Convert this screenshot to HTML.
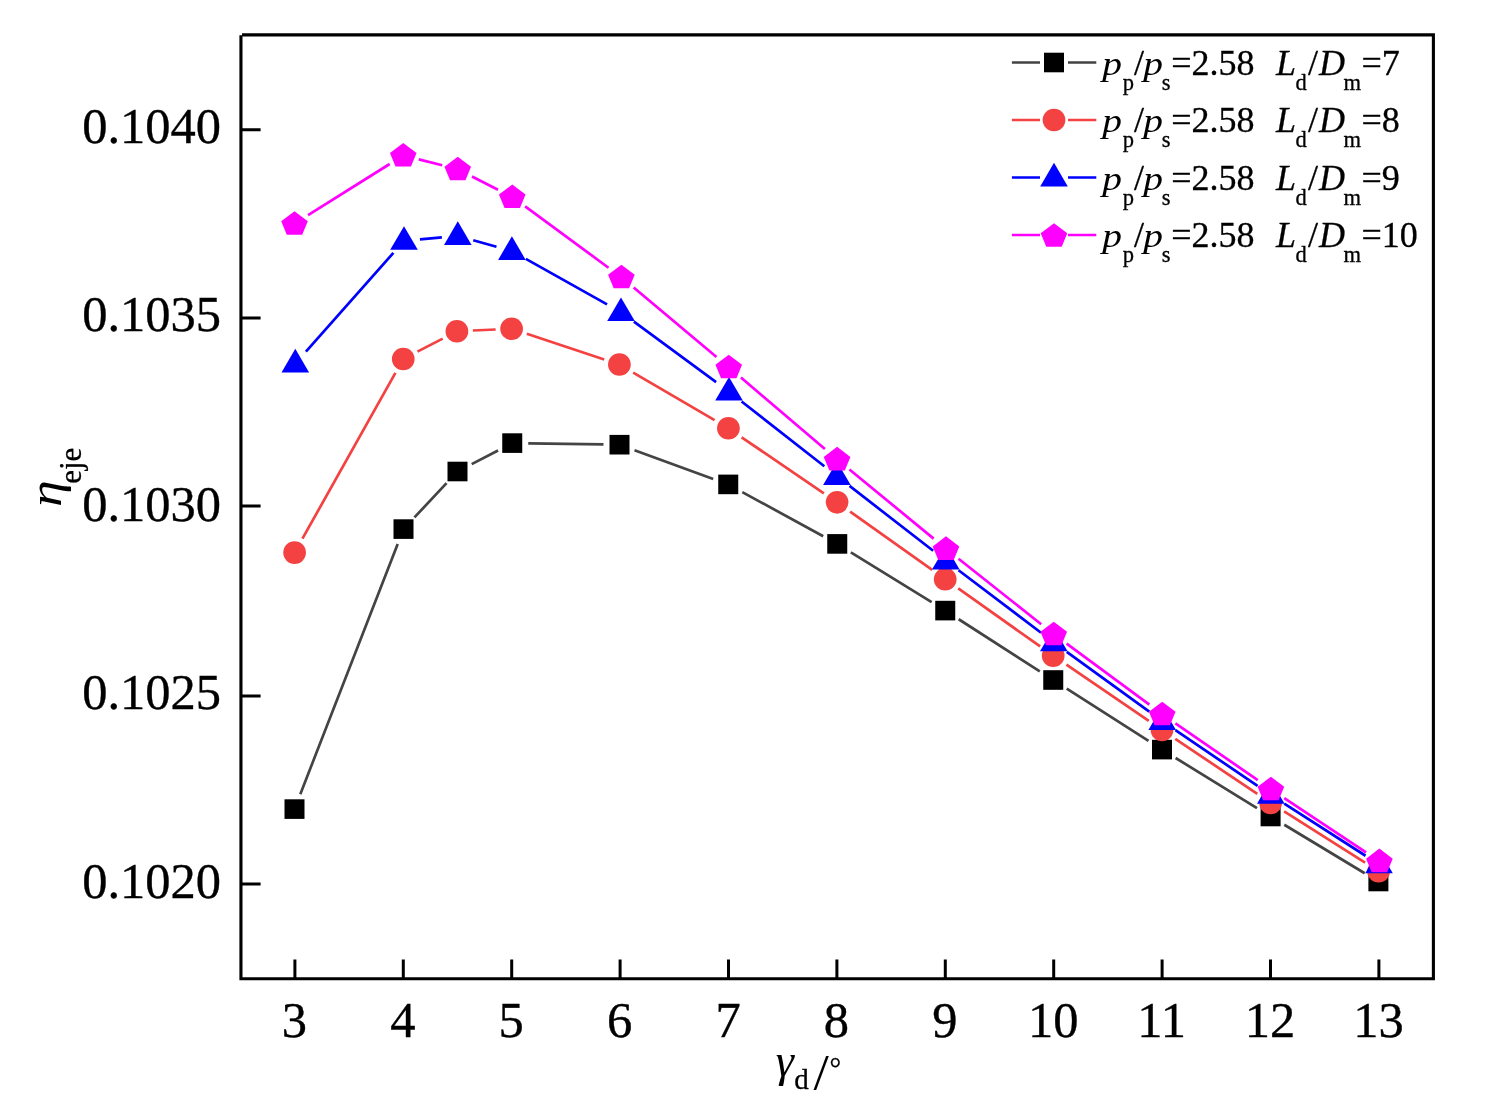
<!DOCTYPE html>
<html lang="en"><head><meta charset="utf-8"><title>Ejector efficiency vs diffuser angle</title>
<style>html,body{margin:0;padding:0;background:#fff}svg{display:block}</style></head>
<body>
<svg width="1488" height="1119" viewBox="0 0 1488 1119">
<rect width="1488" height="1119" fill="#fff"/>
<path d="M300.30 794.19L397.70 544.01M414.44 517.43L446.56 483.17M471.70 464.13L498.05 450.47M528.25 443.34L603.50 444.46M634.53 450.19L713.22 478.91M742.29 492.07L823.21 536.23M850.86 552.31L931.64 602.19M958.71 619.25L1039.79 671.35M1066.73 688.62L1148.52 740.98M1175.62 757.99L1256.98 808.11M1284.30 824.76L1364.70 873.24" stroke="#444" stroke-width="2.7" fill="none"/>
<g><rect x="284.50" y="799.30" width="20" height="19.6" fill="#000" stroke="none"/><rect x="393.50" y="519.30" width="20" height="19.6" fill="#000" stroke="none"/><rect x="447.50" y="461.70" width="20" height="19.6" fill="#000" stroke="none"/><rect x="502.25" y="433.30" width="20" height="19.6" fill="#000" stroke="none"/><rect x="609.50" y="434.90" width="20" height="19.6" fill="#000" stroke="none"/><rect x="718.25" y="474.60" width="20" height="19.6" fill="#000" stroke="none"/><rect x="827.25" y="534.10" width="20" height="19.6" fill="#000" stroke="none"/><rect x="935.25" y="600.80" width="20" height="19.6" fill="#000" stroke="none"/><rect x="1043.25" y="670.20" width="20" height="19.6" fill="#000" stroke="none"/><rect x="1152.00" y="739.80" width="20" height="19.6" fill="#000" stroke="none"/><rect x="1260.60" y="806.70" width="20" height="19.6" fill="#000" stroke="none"/><rect x="1368.40" y="871.70" width="20" height="19.6" fill="#000" stroke="none"/></g>
<path d="M302.43 538.65L395.42 372.95M417.46 351.65L442.69 338.60M472.88 330.52L495.62 329.48M526.79 333.79L604.21 359.46M633.21 372.58L714.59 420.17M741.62 437.26L823.88 493.29M850.14 511.57L932.16 569.93M958.26 588.45L1040.14 646.45M1066.42 664.71L1148.78 720.89M1175.28 738.83L1257.32 793.97M1284.12 811.45L1365.08 862.65" stroke="#f44141" stroke-width="2.7" fill="none"/>
<g><circle cx="294.60" cy="552.60" r="11.35" fill="#f44141" stroke="none"/><circle cx="403.25" cy="359.00" r="11.35" fill="#f44141" stroke="none"/><circle cx="456.90" cy="331.25" r="11.35" fill="#f44141" stroke="none"/><circle cx="511.60" cy="328.75" r="11.35" fill="#f44141" stroke="none"/><circle cx="619.40" cy="364.50" r="11.35" fill="#f44141" stroke="none"/><circle cx="728.40" cy="428.25" r="11.35" fill="#f44141" stroke="none"/><circle cx="837.10" cy="502.30" r="11.35" fill="#f44141" stroke="none"/><circle cx="945.20" cy="579.20" r="11.35" fill="#f44141" stroke="none"/><circle cx="1053.20" cy="655.70" r="11.35" fill="#f44141" stroke="none"/><circle cx="1162.00" cy="729.90" r="11.35" fill="#f44141" stroke="none"/><circle cx="1270.60" cy="802.90" r="11.35" fill="#f44141" stroke="none"/><circle cx="1378.60" cy="871.20" r="11.35" fill="#f44141" stroke="none"/></g>
<path d="M305.91 351.53L393.39 252.87M419.93 239.45L441.87 237.45M473.22 240.27L496.48 246.73M525.85 258.83L607.05 304.37M633.89 321.68L716.11 382.12M741.60 401.47L824.30 466.23M849.54 485.91L933.16 550.79M958.55 570.26L1041.05 632.74M1066.75 651.80L1149.25 711.70M1175.43 730.09L1257.57 785.91M1284.26 803.55L1365.54 855.75" stroke="#0000ff" stroke-width="2.7" fill="none"/>
<g><polygon points="295.30,348.80 309.10,372.40 281.50,372.40" fill="#0000ff" stroke="none"/><polygon points="404.00,226.20 417.80,249.80 390.20,249.80" fill="#0000ff" stroke="none"/><polygon points="457.80,221.30 471.60,244.90 444.00,244.90" fill="#0000ff" stroke="none"/><polygon points="511.90,236.30 525.70,259.90 498.10,259.90" fill="#0000ff" stroke="none"/><polygon points="621.00,297.50 634.80,321.10 607.20,321.10" fill="#0000ff" stroke="none"/><polygon points="729.00,376.90 742.80,400.50 715.20,400.50" fill="#0000ff" stroke="none"/><polygon points="836.90,461.40 850.70,485.00 823.10,485.00" fill="#0000ff" stroke="none"/><polygon points="945.80,545.90 959.60,569.50 932.00,569.50" fill="#0000ff" stroke="none"/><polygon points="1053.80,627.70 1067.60,651.30 1040.00,651.30" fill="#0000ff" stroke="none"/><polygon points="1162.20,706.40 1176.00,730.00 1148.40,730.00" fill="#0000ff" stroke="none"/><polygon points="1270.80,780.20 1284.60,803.80 1257.00,803.80" fill="#0000ff" stroke="none"/><polygon points="1379.00,849.70 1392.80,873.30 1365.20,873.30" fill="#0000ff" stroke="none"/></g>
<path d="M308.06 215.20L389.69 164.00M418.77 159.40L442.23 165.30M472.01 176.46L497.99 189.69M525.14 206.43L608.51 267.72M633.66 287.48L716.49 356.92M740.94 377.56L824.91 448.94M849.46 469.46L933.64 538.64M958.54 558.74L1041.21 624.26M1066.63 643.70L1149.37 704.70M1175.42 723.29L1257.73 780.11M1284.24 798.04L1366.06 852.26" stroke="#ff00ff" stroke-width="2.7" fill="none"/>
<g><polygon points="294.50,211.20 307.80,221.30 302.20,234.80 286.80,234.80 281.20,221.30" fill="#ff00ff" stroke="none"/><polygon points="403.25,143.00 416.55,153.10 410.95,166.60 395.55,166.60 389.95,153.10" fill="#ff00ff" stroke="none"/><polygon points="457.75,156.70 471.05,166.80 465.45,180.30 450.05,180.30 444.45,166.80" fill="#ff00ff" stroke="none"/><polygon points="512.25,184.45 525.55,194.55 519.95,208.05 504.55,208.05 498.95,194.55" fill="#ff00ff" stroke="none"/><polygon points="621.40,264.70 634.70,274.80 629.10,288.30 613.70,288.30 608.10,274.80" fill="#ff00ff" stroke="none"/><polygon points="728.75,354.70 742.05,364.80 736.45,378.30 721.05,378.30 715.45,364.80" fill="#ff00ff" stroke="none"/><polygon points="837.10,446.80 850.40,456.90 844.80,470.40 829.40,470.40 823.80,456.90" fill="#ff00ff" stroke="none"/><polygon points="946.00,536.30 959.30,546.40 953.70,559.90 938.30,559.90 932.70,546.40" fill="#ff00ff" stroke="none"/><polygon points="1053.75,621.70 1067.05,631.80 1061.45,645.30 1046.05,645.30 1040.45,631.80" fill="#ff00ff" stroke="none"/><polygon points="1162.25,701.70 1175.55,711.80 1169.95,725.30 1154.55,725.30 1148.95,711.80" fill="#ff00ff" stroke="none"/><polygon points="1270.90,776.70 1284.20,786.80 1278.60,800.30 1263.20,800.30 1257.60,786.80" fill="#ff00ff" stroke="none"/><polygon points="1379.40,848.60 1392.70,858.70 1387.10,872.20 1371.70,872.20 1366.10,858.70" fill="#ff00ff" stroke="none"/></g>
<path d="M240.95 35.20V978.75H1433.4V34.9H242.05" fill="none" stroke="#000" stroke-width="3.1" stroke-linejoin="miter" stroke-linecap="butt"/>
<path d="M240.95 129.85H260.6M240.95 317.9H260.6M240.95 506.0H260.6M240.95 695.9H260.6M240.95 884.0H260.6M294.90 978.75V959.5M403.30 978.75V959.5M511.70 978.75V959.5M620.10 978.75V959.5M728.50 978.75V959.5M836.90 978.75V959.5M945.30 978.75V959.5M1053.70 978.75V959.5M1162.10 978.75V959.5M1270.50 978.75V959.5M1378.90 978.75V959.5" stroke="#000" stroke-width="3" fill="none"/>
<g font-family="'Liberation Serif', 'Times New Roman', serif" font-size="50.5" fill="#000" stroke="#000" stroke-width="0.35">
<text x="221.1" y="142.90" text-anchor="end">0.1040</text>
<text x="221.1" y="330.90" text-anchor="end">0.1035</text>
<text x="221.1" y="520.75" text-anchor="end">0.1030</text>
<text x="221.1" y="708.75" text-anchor="end">0.1025</text>
<text x="221.1" y="897.60" text-anchor="end">0.1020</text>
<text x="294.40" y="1036.6" text-anchor="middle">3</text>
<text x="402.80" y="1036.6" text-anchor="middle">4</text>
<text x="511.20" y="1036.6" text-anchor="middle">5</text>
<text x="619.60" y="1036.6" text-anchor="middle">6</text>
<text x="728.00" y="1036.6" text-anchor="middle">7</text>
<text x="836.40" y="1036.6" text-anchor="middle">8</text>
<text x="944.80" y="1036.6" text-anchor="middle">9</text>
<text x="1053.20" y="1036.6" text-anchor="middle">10</text>
<text x="1161.60" y="1036.6" text-anchor="middle">11</text>
<text x="1270.00" y="1036.6" text-anchor="middle">12</text>
<text x="1378.40" y="1036.6" text-anchor="middle">13</text>
</g>
<g font-family="'Liberation Serif', 'Times New Roman', serif" fill="#000" stroke="#000" stroke-width="0.3">
<text x="775.7" y="1076" font-size="46" font-style="italic" stroke="none">γ</text>
<text x="794.2" y="1088.6" font-size="29">d</text>
<text transform="translate(813.4,1089) scale(1.1,1)" font-size="50" stroke="none">/</text>
<text x="829.5" y="1077.8" font-size="29">°</text>
<g transform="translate(61,506.9) rotate(-90)"><text x="0" y="0" font-size="46" font-style="italic" transform="scale(1.17,1)" stroke="none">η</text><text x="23.1" y="19.8" font-size="31">eje</text></g>
</g>
<g font-family="'Liberation Serif', 'Times New Roman', serif" font-size="36" fill="#000" stroke="#000" stroke-width="0.3">
<path d="M1011.9 62.5H1040M1068 62.5H1096.3" stroke="#444" stroke-width="2.6"/>
<rect x="1044.00" y="52.70" width="20" height="19.6" fill="#000" stroke="none"/>
<text transform="translate(1102.3,74.5) scale(1.16,1)" font-size="34" font-style="italic" stroke="none">p</text>
<text x="1122.7" y="89.7" font-size="22.5">p</text>
<text x="1134.1" y="74.5" font-size="36">/</text>
<text transform="translate(1143.3,74.5) scale(1.16,1)" font-size="34" font-style="italic" stroke="none">p</text>
<text x="1161.8" y="89.7" font-size="22.5">s</text>
<text x="1171.3" y="74.5" font-size="36">=2.58</text>
<text x="1276" y="74.5" font-size="36" font-style="italic">L</text>
<text x="1295.5" y="89.7" font-size="22.5">d</text>
<text x="1308" y="74.5" font-size="36">/</text>
<text x="1319" y="74.5" font-size="36" font-style="italic">D</text>
<text x="1343.5" y="89.7" font-size="22.5">m</text>
<text x="1361.5" y="74.5" font-size="36">=7</text>
<path d="M1011.9 120.0H1040M1068 120.0H1096.3" stroke="#f44141" stroke-width="2.6"/>
<circle cx="1054.00" cy="120.00" r="11.35" fill="#f44141" stroke="none"/>
<text transform="translate(1102.3,132.0) scale(1.16,1)" font-size="34" font-style="italic" stroke="none">p</text>
<text x="1122.7" y="147.2" font-size="22.5">p</text>
<text x="1134.1" y="132.0" font-size="36">/</text>
<text transform="translate(1143.3,132.0) scale(1.16,1)" font-size="34" font-style="italic" stroke="none">p</text>
<text x="1161.8" y="147.2" font-size="22.5">s</text>
<text x="1171.3" y="132.0" font-size="36">=2.58</text>
<text x="1276" y="132.0" font-size="36" font-style="italic">L</text>
<text x="1295.5" y="147.2" font-size="22.5">d</text>
<text x="1308" y="132.0" font-size="36">/</text>
<text x="1319" y="132.0" font-size="36" font-style="italic">D</text>
<text x="1343.5" y="147.2" font-size="22.5">m</text>
<text x="1361.5" y="132.0" font-size="36">=8</text>
<path d="M1011.9 177.5H1040M1068 177.5H1096.3" stroke="#0000ff" stroke-width="2.6"/>
<polygon points="1054.00,162.80 1067.80,186.40 1040.20,186.40" fill="#0000ff" stroke="none"/>
<text transform="translate(1102.3,189.5) scale(1.16,1)" font-size="34" font-style="italic" stroke="none">p</text>
<text x="1122.7" y="204.7" font-size="22.5">p</text>
<text x="1134.1" y="189.5" font-size="36">/</text>
<text transform="translate(1143.3,189.5) scale(1.16,1)" font-size="34" font-style="italic" stroke="none">p</text>
<text x="1161.8" y="204.7" font-size="22.5">s</text>
<text x="1171.3" y="189.5" font-size="36">=2.58</text>
<text x="1276" y="189.5" font-size="36" font-style="italic">L</text>
<text x="1295.5" y="204.7" font-size="22.5">d</text>
<text x="1308" y="189.5" font-size="36">/</text>
<text x="1319" y="189.5" font-size="36" font-style="italic">D</text>
<text x="1343.5" y="204.7" font-size="22.5">m</text>
<text x="1361.5" y="189.5" font-size="36">=9</text>
<path d="M1011.9 235.0H1040M1068 235.0H1096.3" stroke="#ff00ff" stroke-width="2.6"/>
<polygon points="1054.00,223.20 1067.30,233.30 1061.70,246.80 1046.30,246.80 1040.70,233.30" fill="#ff00ff" stroke="none"/>
<text transform="translate(1102.3,247.0) scale(1.16,1)" font-size="34" font-style="italic" stroke="none">p</text>
<text x="1122.7" y="262.2" font-size="22.5">p</text>
<text x="1134.1" y="247.0" font-size="36">/</text>
<text transform="translate(1143.3,247.0) scale(1.16,1)" font-size="34" font-style="italic" stroke="none">p</text>
<text x="1161.8" y="262.2" font-size="22.5">s</text>
<text x="1171.3" y="247.0" font-size="36">=2.58</text>
<text x="1276" y="247.0" font-size="36" font-style="italic">L</text>
<text x="1295.5" y="262.2" font-size="22.5">d</text>
<text x="1308" y="247.0" font-size="36">/</text>
<text x="1319" y="247.0" font-size="36" font-style="italic">D</text>
<text x="1343.5" y="262.2" font-size="22.5">m</text>
<text x="1361.5" y="247.0" font-size="36">=10</text>
</g>
</svg>
</body></html>
